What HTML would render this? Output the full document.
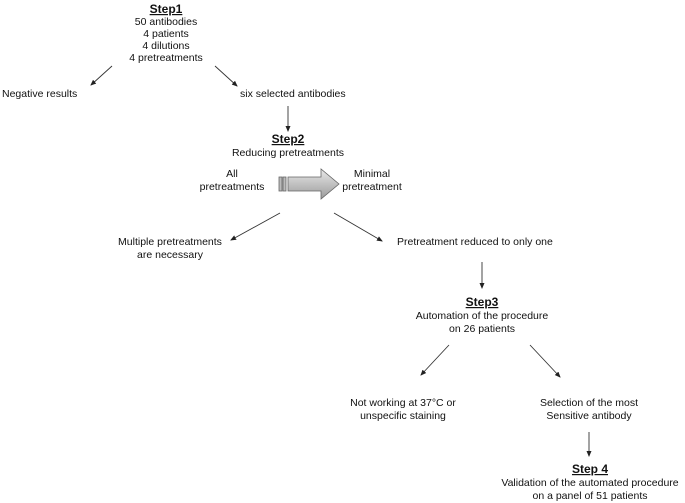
<!DOCTYPE html>
<html><head><style>html,body{margin:0;padding:0;background:#fff}svg{display:block}</style></head><body>
<svg width="685" height="503" xmlns="http://www.w3.org/2000/svg" font-family="Liberation Sans, Arial, sans-serif" font-size="10.5" fill="#111">
<defs><marker id="a" markerWidth="6" markerHeight="6" refX="5" refY="3" orient="auto" markerUnits="userSpaceOnUse"><path d="M0,0.5 L6,3 L0,5.5z" fill="#222"/></marker></defs>
<g stroke="#333" stroke-width="0.9" fill="none" marker-end="url(#a)">
<line x1="112" y1="66" x2="91" y2="85"/>
<line x1="215" y1="66" x2="237" y2="86"/>
<line x1="288" y1="106" x2="288" y2="131"/>
<line x1="280" y1="213" x2="231" y2="240"/>
<line x1="334" y1="213" x2="382" y2="241"/>
<line x1="482" y1="262" x2="482" y2="288"/>
<line x1="449" y1="345" x2="421" y2="375"/>
<line x1="530" y1="345" x2="560" y2="377"/>
<line x1="589" y1="432" x2="589" y2="456"/>
</g>
<g text-anchor="middle">
<text x="166" y="13" font-weight="bold" font-size="12" text-decoration="underline">Step1</text>
<text x="166" y="25">50 antibodies</text>
<text x="166" y="37">4 patients</text>
<text x="166" y="49">4 dilutions</text>
<text x="166" y="61">4 pretreatments</text>
<text x="288" y="143" font-weight="bold" font-size="12" text-decoration="underline">Step2</text>
<text x="288" y="156">Reducing pretreatments</text>
<text x="232" y="177">All</text>
<text x="232" y="190">pretreatments</text>
<text x="372" y="177">Minimal</text>
<text x="372" y="190">pretreatment</text>
<text x="170" y="245">Multiple pretreatments</text>
<text x="170" y="258">are necessary</text>
<text x="482" y="306" font-weight="bold" font-size="12" text-decoration="underline">Step3</text>
<text x="482" y="319">Automation of the procedure</text>
<text x="482" y="332">on 26 patients</text>
<text x="403" y="406">Not working at 37°C or</text>
<text x="403" y="419">unspecific staining</text>
<text x="589" y="406">Selection of the most</text>
<text x="589" y="419">Sensitive antibody</text>
<text x="590" y="473" font-weight="bold" font-size="12" text-decoration="underline">Step 4</text>
<text x="590" y="486">Validation of the automated procedure</text>
<text x="590" y="499">on a panel of 51 patients</text>
</g>
<text x="2" y="97">Negative results</text>
<text x="240" y="97">six selected antibodies</text>
<text x="397" y="245">Pretreatment reduced to only one</text>
<defs><linearGradient id="g" x1="0" y1="0" x2="0" y2="1"><stop offset="0" stop-color="#e8e8e8"/><stop offset="1" stop-color="#9a9a9a"/></linearGradient></defs>
<g stroke="#666" stroke-width="0.8">
<rect x="279" y="177" width="3" height="14" fill="#bbb"/>
<rect x="283" y="177" width="3" height="14" fill="#bbb"/>
<path d="M288,177 L321,177 L321,169 L339,184 L321,199 L321,191 L288,191z" fill="url(#g)"/>
</g>
</svg>
</body></html>
